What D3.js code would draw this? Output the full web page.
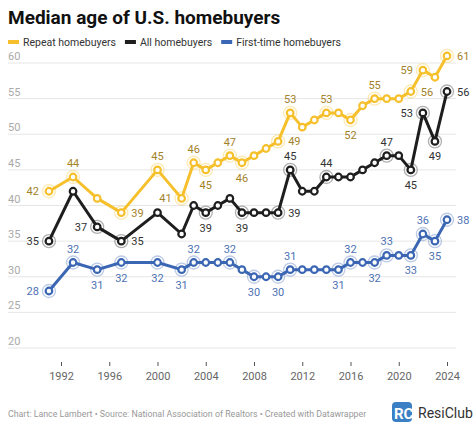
<!DOCTYPE html>
<html><head><meta charset="utf-8">
<script src="https://cdn.jsdelivr.net/npm/d3@7"></script>
<style>body{margin:0;background:#fff;font-family:Roboto,sans-serif}</style>
</head><body><svg id="c" width="474" height="428"></svg>
<script>
const years=[1991,1993,1995,1997,2000,2002,2003,2004,2005,2006,2007,2008,2009,2010,2011,2012,2013,2014,2015,2016,2017,2018,2019,2020,2021,2022,2023,2024];
const repeat=[42,44,41,39,45,41,46,45,46,47,46,47,48,49,53,51,52,53,53,52,54,55,55,55,56,59,58,61];
const all=[35,42,37,35,39,36,40,39,40,41,39,39,39,39,45,42,42,44,44,44,45,46,47,47,45,53,49,56];
const first=[28,32,31,32,32,31,32,32,32,32,31,30,30,30,31,31,31,31,31,32,32,32,33,33,33,36,35,38];
const yTicks=[20,25,30,35,40,45,50,55,60];
const xTicks=[1992,1996,2000,2004,2008,2012,2016,2020,2024];
const repeatLab={1991:"l",1993:"a",1997:"r",2000:"a",2002:"l",2003:"a",2004:"b",2006:"a",2007:"b",2010:"r",2011:"a",2014:"a",2016:"b",2018:"a",2021:"r",2022:"l",2024:"r"};
const allLab={1991:"l",1995:"l",1997:"r",2004:"b",2007:"b",2010:"r",2011:"a",2014:"a",2019:"a",2021:"b",2022:"l",2023:"b",2024:"r"};
const firstLab={1991:"l",1993:"a",1995:"b",1997:"b",2000:"b",2002:"b",2003:"a",2006:"a",2008:"b",2010:"b",2011:"a",2015:"b",2016:"a",2018:"b",2019:"a",2021:"b",2022:"a",2023:"b",2024:"r"};
const series=[
 {name:"Repeat homebuyers",v:repeat,lab:repeatLab,c:"#f6c02c",t:"#a3822a"},
 {name:"All homebuyers",v:all,lab:allLab,c:"#1e1e1e",t:"#333"},
 {name:"First-time homebuyers",v:first,lab:firstLab,c:"#3b66b4",t:"#4d72b5"}];
const svg=d3.select("#c");
const x=d3.scaleLinear().domain([1992,2024]).range([61,447]);
const y=d3.scaleLinear().domain([20,60]).range([348,63]);
svg.append("text").attr("x",8).attr("y",24).attr("font-size",19).attr("font-weight",700).attr("fill","#111").text("Median age of U.S. homebuyers");
let lx=8;
series.forEach(s=>{
 svg.append("rect").attr("x",lx).attr("y",40).attr("width",11).attr("height",4).attr("fill",s.c);
 const t=svg.append("text").attr("x",lx+15).attr("y",46).attr("font-size",10.5).attr("fill","#333").text(s.name);
 lx+=15+t.node().getComputedTextLength()+9;
});
yTicks.forEach(v=>{
 svg.append("line").attr("x1",8).attr("x2",456).attr("y1",y(v)).attr("y2",y(v)).attr("stroke","#e6e6e6");
 svg.append("text").attr("x",8).attr("y",y(v)-3).attr("font-size",11).attr("fill","#aaa").text(v);
});
const ax=svg.append("g").attr("transform","translate(0,362)").call(d3.axisBottom(x).tickValues(xTicks).tickFormat(d3.format("d")).tickSize(4));
ax.select(".domain").remove();
ax.selectAll("line").attr("stroke","#555");
ax.selectAll("text").attr("font-size",11).attr("fill","#666").attr("font-family","Roboto").attr("dy","1.0em");
const line=d3.line().x((d,i)=>x(years[i])).y(d=>y(d));
series.forEach(s=>{
 svg.append("path").attr("d",line(s.v)).attr("fill","none").attr("stroke",s.c).attr("stroke-width",3).attr("stroke-linejoin","round");
 years.forEach((yr,i)=>{
  if(s.lab[yr]) svg.append("circle").attr("cx",x(yr)).attr("cy",y(s.v[i])).attr("r",6.5).attr("fill","none").attr("stroke",s.c).attr("stroke-opacity",0.35).attr("stroke-width",1.3);
  svg.append("circle").attr("cx",x(yr)).attr("cy",y(s.v[i])).attr("r",3.3).attr("fill","#fff").attr("stroke",s.c).attr("stroke-width",2.2);
 });
 years.forEach((yr,i)=>{
  const p=s.lab[yr]; if(!p) return;
  const cx=x(yr),cy=y(s.v[i]);
  const t=svg.append("text").attr("font-size",11).attr("fill",s.t).text(s.v[i]);
  if(p==="l") t.attr("x",cx-10).attr("y",cy+4).attr("text-anchor","end");
  if(p==="r") t.attr("x",cx+10).attr("y",cy+4);
  if(p==="a") t.attr("x",cx).attr("y",cy-10).attr("text-anchor","middle");
  if(p==="b") t.attr("x",cx).attr("y",cy+19).attr("text-anchor","middle");
 });
});
svg.append("text").attr("x",8).attr("y",417).attr("font-size",8.8).attr("fill","#999").text("Chart: Lance Lambert • Source: National Association of Realtors • Created with Datawrapper");
const g=svg.append("g").attr("transform","translate(392,398)");
g.append("rect").attr("x",0).attr("y",4).attr("width",20).attr("height",20).attr("rx",4).attr("fill","#3b7fc4");
g.append("text").attr("x",2).attr("y",21).attr("font-size",15).attr("font-weight",700).attr("fill","#fff").text("RC");
g.append("text").attr("x",26).attr("y",20).attr("font-size",14).attr("fill","#333").text("ResiClub");
</script></body></html>
